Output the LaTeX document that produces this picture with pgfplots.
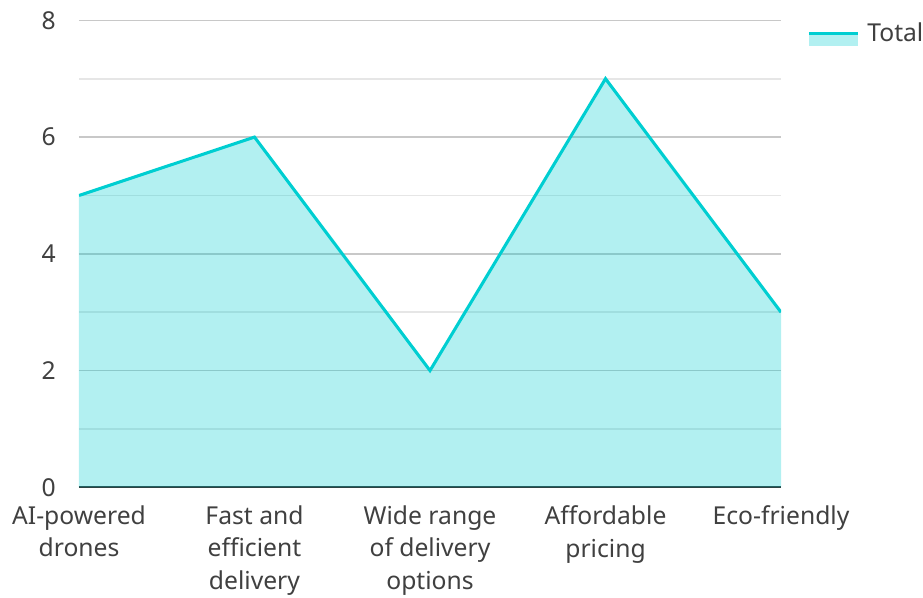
\documentclass[border=0pt]{standalone}
\usepackage{fontspec}
\setmainfont{Noto Sans}
\usepackage{pgfplots}
\pgfplotsset{compat=1.18}
\definecolor{lineC}{RGB}{0,206,209}
\definecolor{txt}{RGB}{64,64,64}
\definecolor{majg}{RGB}{200,200,200}
\definecolor{ming}{RGB}{230,230,230}
\definecolor{axc}{RGB}{51,51,51}
\begin{document}
\begin{tikzpicture}[x=1pt,y=1pt]
\useasboundingbox (-59.25,-82.5) rectangle (633,365.5);
\begin{axis}[
 at={(0,0)}, anchor=south west,
 scale only axis, width=526.5pt, height=350.25pt,
 xmin=0, xmax=4, ymin=0, ymax=8,
 xtick={0,1,2,3,4},
 xticklabels={{AI-powered\\drones},{Fast and\\efficient\\delivery},{Wide range\\of delivery\\options},{Affordable\\pricing},{Eco-friendly}},
 xticklabel style={align=center, font=\fontsize{18.5}{24.3}\selectfont, text=txt, anchor=north, yshift=-10.3pt},
 ytick={0,2,4,6,8}, minor ytick={1,3,5,7},
 yticklabel style={font=\fontsize{18.5}{24}\selectfont, text=txt, anchor=east, xshift=-14pt},
 /pgf/number format/assume math mode=true,
 ymajorgrids, yminorgrids,
 major grid style={majg, line width=1.2pt},
 minor grid style={ming, line width=1.2pt},
 axis lines*=left,
 y axis line style={draw=none},
 x axis line style={axc, line width=1.5pt, -},
 tick style={draw=none},
 legend style={at={(rel axis cs:1.037,0.972)}, anchor=west, draw=none, fill=none, inner sep=0pt,
   font=\fontsize{18.5}{24}\selectfont, text=txt,
   /tikz/every odd column/.append style={column sep=4pt}},
 legend image code/.code={\path[fill=lineC, fill opacity=0.3, draw=none] (0pt,-9.75pt) rectangle (36.75pt,0pt); \draw[lineC, line width=2.3pt] (0pt,0pt)--(36.75pt,0pt);},
]
\addplot[draw=none, fill=lineC, fill opacity=0.3, forget plot] coordinates {(0,5) (1,6) (2,2) (3,7) (4,3)} \closedcycle;
\addplot[draw=lineC, line width=2.3pt] coordinates {(0,5) (1,6) (2,2) (3,7) (4,3)};
\addlegendentry{Total}
\end{axis}
\end{tikzpicture}
\end{document}
